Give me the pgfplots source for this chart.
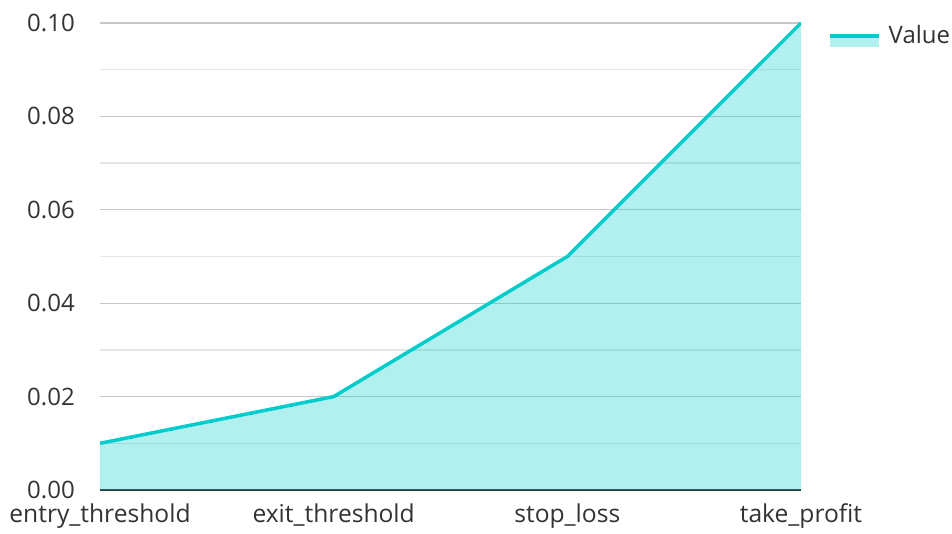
\documentclass[border=0pt]{standalone}
\usepackage{pgfplots}
\pgfplotsset{compat=1.18}
\usepackage{fontspec}
\setmainfont{Open Sans}
\definecolor{lineteal}{RGB}{0,204,204}
\definecolor{txt}{RGB}{51,51,51}
\definecolor{majgrid}{RGB}{200,200,200}
\definecolor{mingrid}{RGB}{230,230,230}
\begin{document}
\begin{tikzpicture}
\begin{axis}[
    set layers,
    scale only axis,
    width=701pt, height=467pt,
    xmin=0, xmax=3,
    ymin=0, ymax=0.1,
    axis lines*=left,
    y axis line style={draw=none},
    x axis line style={draw=txt, line width=2pt, /pgfplots/on layer=axis foreground},
    major tick length=0pt, minor tick length=0pt,
    xtick={0,1,2,3},
    xticklabels={entry\_threshold, exit\_threshold, stop\_loss, take\_profit},
    ytick={0,0.02,0.04,0.06,0.08,0.1},
    minor ytick={0.01,0.03,0.05,0.07,0.09},
    ymajorgrids=true, yminorgrids=true,
    major grid style={draw=majgrid, line width=1.3pt},
    minor grid style={draw=mingrid, line width=1.3pt},
    tick label style={text=txt, inner sep=0pt},
    yticklabel style={font=\fontsize{24}{28}\selectfont, anchor=east, xshift=-25pt},
    xticklabel style={font=\fontsize{24.6}{28}\selectfont, anchor=base, yshift=-32pt},
    /pgf/number format/.cd, fixed, fixed zerofill, precision=2, assume math mode=true,
    /pgfplots/.cd,
    legend style={at={(rel axis cs:1,1)}, anchor=north west, xshift=27pt, yshift=-2pt,
        draw=none, fill=none, inner sep=0pt, font=\fontsize{24}{28}\selectfont,
        text=txt, nodes={inner sep=0pt},
        /tikz/every odd column/.append style={column sep=8pt}},
    legend image code/.code={
        \path[draw=none, fill=lineteal, fill opacity=0.3] (0pt,-12pt) rectangle (49pt,-2pt);
        \path[draw=lineteal, line width=3.5pt] (0pt,-1pt) -- (49pt,-1pt);
    },
]
% area under the line
\addplot[draw=none, fill=lineteal, fill opacity=0.3, forget plot]
    coordinates {(0,0.01) (1,0.02) (2,0.05) (3,0.10)} \closedcycle;
% the line
\addplot[draw=lineteal, line width=3.5pt]
    coordinates {(0,0.01) (1,0.02) (2,0.05) (3,0.10)};
\addlegendentry{Value}
\end{axis}
\path (-100pt,-43pt) rectangle (852pt,490pt);
\end{tikzpicture}
\end{document}
